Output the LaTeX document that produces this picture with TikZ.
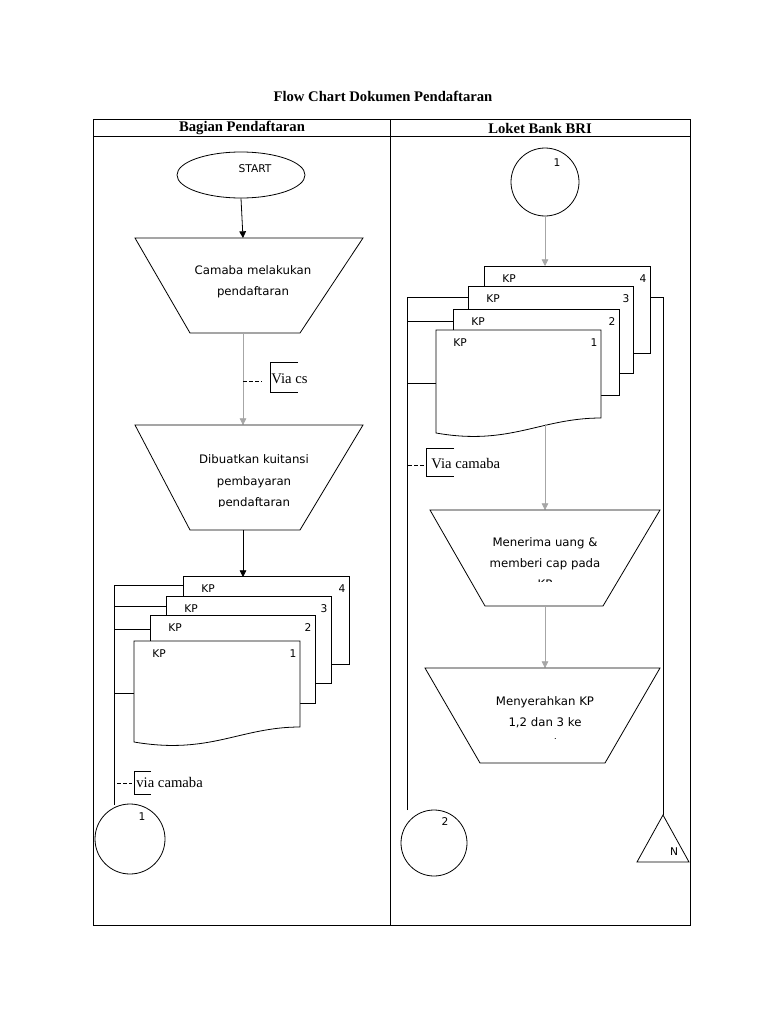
\documentclass[tikz,border=0pt]{standalone}
\usepackage{fontspec}
\setmainfont{Liberation Serif}
\newfontfamily\djsans{DejaVu Sans}
\usetikzlibrary{shapes.geometric,arrows.meta}
\begin{document}
\begin{tikzpicture}[x=0.75pt,y=-0.75pt,line width=0.6pt,
  arr/.style={-{Triangle[length=5pt,width=5pt]}},
  garr/.style={arr,draw=black!35},
  sftxt/.style={font=\djsans\fontsize{8.8pt}{16pt}\selectfont,align=center},
  kp/.style={font=\djsans\fontsize{8pt}{9pt}\selectfont,inner sep=0pt},
  note/.style={font=\fontsize{11pt}{12pt}\selectfont,inner sep=0pt,anchor=west},
  dsh/.style={dash pattern=on 3pt off 1.5pt},
  hd/.style={font=\bfseries\fontsize{11pt}{12pt}\selectfont}]
\useasboundingbox (0,0) rectangle (768,1024);
% title and table
\node[hd] (title) at (383,96) {Flow Chart Dokumen Pendaftaran};
\draw (93,119) rectangle (690,925);
\draw (93,136) -- (690,136);
\draw (390,119) -- (390,925);
\node[hd] (h1) at (242,128) {Bagian Pendaftaran};
\node[hd] (h2) at (540,128) {Loket Bank BRI};
% ---------- left column
\node[ellipse,draw,minimum width=96pt,minimum height=34.5pt] (start) at (241,175) {};
\node[kp] (starttxt) at (255,169) {START};
\coordinate (t1) at (243,238);
\draw (135,238) -- (363,238) -- (300,333) -- (190,333) -- cycle;
\node[sftxt] (t1txt) at (253,282) {Camaba melakukan\\pendaftaran};
\draw[arr] (start.south) -- (t1);
\coordinate (t1b) at (243,333);
\coordinate (t2) at (243,425);
\draw[garr] (t1b) -- (t2);
\draw[dsh] (243,381) -- (262,381);
\draw (298,362) -- (270,362) -- (270,392) -- (298,392);
\node[note] (viacs) at (271,379) {Via cs};
\draw (135,425) -- (363,425) -- (300,530) -- (190,530) -- cycle;
\begin{scope}\clip (150,440) rectangle (350,506);
\node[sftxt] (t2txt) at (254,482) {Dibuatkan kuitansi\\pembayaran\\pendaftaran};
\end{scope}
\coordinate (t2b) at (243,530);
\coordinate (d4L) at (243,577);
\draw[arr] (t2b) -- (d4L);
% left docs
\foreach \l/\t/\r/\b/\n in {183/576/349/664/4,166/596/331/683/3,150/615/315/703/2}{
  \fill[white] (\l,\t) rectangle (\r,\b);
  \draw (\l,\t) rectangle (\r,\b);
  \node[kp] at (\l+25,\t+13) {KP};
  \node[kp] at (\r-7,\t+13) {\n};
}
\draw[fill=white] (134,641) -- (300,641) -- (300,727) .. controls (240,727) and (210,755) .. (134,742) -- cycle;
\node[kp] (kpl1) at (159,654) {KP};
\node[kp] at (293,654) {1};
\node[circle,draw,minimum size=52.5pt,inner sep=0pt] (c1) at (130,839) {};
\node[kp] at (142,817) {1};
\draw (183,585) -- (114,585) -- (114,805);
\draw (114,606) -- (166,606);
\draw (114,629) -- (150,629);
\draw (114,693) -- (134,693);
\draw[dsh] (117,783) -- (132,783);
\draw (151,771) -- (134,771) -- (134,794) -- (151,794);
\node[note] (viac1) at (136,782) {via camaba};
% ---------- right column
\node[circle,draw,minimum size=51pt,inner sep=0pt] (r1) at (545,182) {};
\node[kp] at (557,163) {1};
\coordinate (d4R) at (545,266);
\draw[garr] (r1.south) -- (d4R);
\draw (407,810) -- (407,297) -- (468,297);
\draw (407,321) -- (453,321);
\draw (407,383) -- (436,383);
\draw (650,297) -- (663,297) -- (663,815);
\foreach \l/\t/\r/\b/\n in {484/266/650/353/4,468/286/633/373/3,453/309/619/395/2}{
  \fill[white] (\l,\t) rectangle (\r,\b);
  \draw (\l,\t) rectangle (\r,\b);
  \node[kp] at (\l+25,\t+13) {KP};
  \node[kp] at (\r-7,\t+13) {\n};
}
\draw[fill=white] (436,330) -- (601,330) -- (601,418) .. controls (540,418) and (510,446) .. (436,433) -- cycle;
\node[kp] at (460,343) {KP};
\node[kp] at (594,343) {1};
\draw[dsh] (408,465) -- (426,465);
\draw (454,448) -- (426,448) -- (426,476) -- (454,476);
\node[note] (viac2) at (431,464) {Via camaba};
\coordinate (d1b) at (545,424);
\coordinate (t3) at (545,510);
\draw[garr] (d1b) -- (t3);
\draw (430,510) -- (660,510) -- (603,606) -- (485,606) -- cycle;
\begin{scope}\clip (440,520) rectangle (650,581);
\node[sftxt] (t3txt) at (545,563) {Menerima uang \&\\memberi cap pada\\KP};
\end{scope}
\coordinate (t3b) at (545,606);
\coordinate (t4) at (545,668);
\draw[garr] (t3b) -- (t4);
\draw (425,668) -- (660,668) -- (605,763) -- (480,763) -- cycle;
\begin{scope}\clip (440,680) rectangle (650,738);
\node[sftxt] (t4txt) at (545,722) {Menyerahkan KP\\1,2 dan 3 ke\\camaba};
\end{scope}
\node[circle,draw,minimum size=49.5pt,inner sep=0pt] (c2) at (434,843) {};
\node[kp] at (445,822) {2};
\draw (663,815) -- (689,862) -- (637,862) -- cycle;
\node[kp] (N) at (674,852) {N};
\end{tikzpicture}
\end{document}
